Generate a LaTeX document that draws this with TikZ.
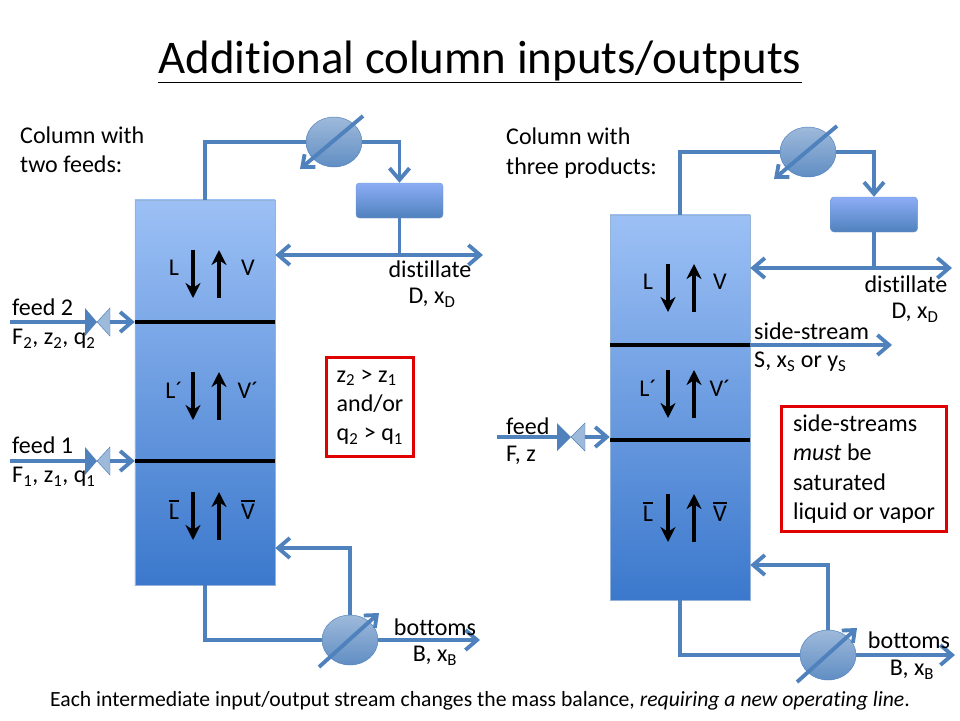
\documentclass[tikz,border=0pt]{standalone}
\usepackage{fontspec}
\setmainfont{Carlito}[Ligatures=NoCommon]
\usetikzlibrary{shapes.geometric,arrows.meta}
\definecolor{pipeBlue}{HTML}{4F81BD}
\definecolor{colTop}{HTML}{9CC0F5}
\definecolor{colBot}{HTML}{3B78CC}
\definecolor{noteRed}{HTML}{E00000}
\newcommand{\ovl}[1]{\tikz[baseline=(t.base)]{\node[inner sep=0pt] (t) {#1}; \draw[line width=0.9pt] ([yshift=2.5pt]t.north west) -- ([yshift=2.5pt]t.north east);}}

\begin{document}
\begin{tikzpicture}[x=0.03cm, y=-0.03cm,
        font=\fontsize{20.5}{25}\selectfont,
        column/.style={rectangle, draw=pipeBlue!60, top color=colTop, bottom color=colBot,
        minimum width=4.2cm, minimum height=11.55cm, inner sep=0pt},
        exchanger/.style={ellipse, draw=pipeBlue, top color=pipeBlue!55!white, bottom color=pipeBlue!90!white,
        minimum width=1.68cm, minimum height=1.5cm, inner sep=0pt},
        drumNode/.style={rectangle, rounded corners=3pt, draw=pipeBlue!80, top color=colTop!90!blue,
        bottom color=pipeBlue, minimum width=2.61cm, minimum height=1.05cm, inner sep=0pt},
        pipe/.style={draw=pipeBlue, line width=3.3pt},
        flow/.style={pipe, -{Straight Barb[length=3.5mm,width=6mm]}},
        twoway/.style={pipe, {Straight Barb[length=3.5mm,width=6mm]}-{Straight Barb[length=3.5mm,width=6mm]}},
        tray/.style={line width=3pt, black},
        vl/.style={line width=3pt, black, -{Stealth[length=4.5mm,width=4.5mm]}},
        note/.style={rectangle, draw=noteRed, line width=2.6pt, align=left, inner sep=6pt},
        lbl/.style={inner sep=0pt, align=left},
    ]
    \useasboundingbox (0,0) rectangle (960,720);

    % title and caption
    \node (title) at (480,62) {\fontsize{40}{46}\selectfont\underline{Additional column inputs/outputs}};
    \node (caption) at (480,701) {\fontsize{18.5}{22}\selectfont Each intermediate input/output stream changes the mass balance, \textit{requiring a new operating line}.};

    % ---- left: two feeds ----
    \node[lbl, anchor=west] (headA) at (20,150) {Column with\\two feeds:};
    \node[column]    (colA)  at (205,392.5) {};
    \node[exchanger] (condA) at (334,142)   {};
    \node[drumNode]  (drumA) at (399.5,200.5) {};
    \node[exchanger] (rebA)  at (350,640)   {};
    \draw[tray] (colA.west |- 0,322) -- (colA.east |- 0,322);
    \draw[tray] (colA.west |- 0,461) -- (colA.east |- 0,461);

    \coordinate (distA)  at (483,255);
    \coordinate (botA)   at (480,640);
    \coordinate (retA)   at (350,548);
    \draw[pipe] (colA.north) |- (condA.west);
    \draw[flow] (condA.east) -| (drumA.north);
    \draw[pipe] (drumA.south) -- (drumA.south |- distA);
    \draw[twoway] (colA.east |- distA) -- (distA);
    \draw[pipe] (colA.south) |- (rebA.west);
    \draw[flow] (rebA.east) -- (botA);
    \draw[flow] (rebA.north) |- (colA.east |- retA);
    \draw[pipe, -{Straight Barb[length=3mm,width=5mm]}] (363,116) -- (300,169);
    \draw[pipe, -{Straight Barb[length=3mm,width=5mm]}] (319,667) -- (379,613);

    % feeds
    \foreach \y/\n in {322/2, 461/1} {
        \coordinate (feedIn\n) at (10,\y);
        \fill[pipeBlue] (85,\y-14) -- (97,\y) -- (85,\y+14) -- cycle;
        \fill[pipeBlue!55!white, draw=pipeBlue, thin] (110,\y-14) -- (97,\y) -- (110,\y+14) -- cycle;
        \draw[pipe] (feedIn\n) -- (85,\y);
        \draw[flow] (110,\y) -- (colA.west |- 0,\y);
    }
    \node[lbl, anchor=west] (feedTwo)  at (12,307) {feed 2};
    \node[lbl, anchor=west] (feedTwoS) at (12,339) {F\textsubscript{2}, z\textsubscript{2}, q\textsubscript{2}};
    \node[lbl, anchor=west] (feedOne)  at (12,445) {feed 1};
    \node[lbl, anchor=west] (feedOneS) at (12,477) {F\textsubscript{1}, z\textsubscript{1}, q\textsubscript{1}};

    % flows inside column A
    \foreach \y/\l/\v in {268/L/V, 390/L´/V´, 510/\ovl{L}/\ovl{V}} {
        \node (lA\y) at (174,\y) {\l};
        \node (vA\y) at (248,\y) {\v};
        \draw[vl] (193,\y-18) -- (193,\y+30);
        \draw[vl] (219,\y+30) -- (219,\y-18);
    }
    \node[lbl] (distLblA) at (430,269) {distillate};
    \node[lbl] (distSubA) at (432,298) {D, x\textsubscript{D}};
    \node[lbl] (botLblA)  at (435,627) {bottoms};
    \node[lbl] (botSubA)  at (435,656) {B, x\textsubscript{B}};
    \node[note, anchor=north west, minimum width=2.61cm, minimum height=2.97cm] (noteA) at (325,356)
        {z\textsubscript{2} > z\textsubscript{1}\\and/or\\q\textsubscript{2} > q\textsubscript{1}};

    % ---- right: three products ----
    \node[lbl, anchor=west] (headB) at (506,153) {Column with\\three products:};
    \node[column]    (colB)  at (680,407.5) {};
    \node[exchanger] (condB) at (808,152)   {};
    \node[drumNode]  (drumB) at (874,214.5) {};
    \node[exchanger] (rebB)  at (828,655)   {};
    \draw[tray] (colB.west |- 0,345) -- (colB.east |- 0,345);
    \draw[tray] (colB.west |- 0,440) -- (colB.east |- 0,440);

    \coordinate (distB) at (952,268);
    \coordinate (sideB) at (892,345);
    \coordinate (botB)  at (955,655);
    \coordinate (retB)  at (828,565);
    \draw[pipe] (colB.north) |- (condB.west);
    \draw[flow] (condB.east) -| (drumB.north);
    \draw[pipe] (drumB.south) -- (drumB.south |- distB);
    \draw[twoway] (colB.east |- distB) -- (distB);
    \draw[flow] (colB.east |- sideB) -- (sideB);
    \draw[pipe] (colB.south) |- (rebB.west);
    \draw[flow] (rebB.east) -- (botB);
    \draw[flow] (rebB.north) |- (colB.east |- retB);
    \draw[pipe, -{Straight Barb[length=3mm,width=5mm]}] (837,126) -- (774,179);
    \draw[pipe, -{Straight Barb[length=3mm,width=5mm]}] (797,682) -- (857,628);

    \coordinate (feedInB) at (497,437);
    \fill[pipeBlue] (557,423) -- (571,437) -- (557,451) -- cycle;
    \fill[pipeBlue!55!white, draw=pipeBlue, thin] (585,423) -- (571,437) -- (585,451) -- cycle;
    \draw[pipe] (feedInB) -- (557,437);
    \draw[flow] (585,437) -- (colB.west |- 0,437);
    \node[lbl, anchor=west] (feedB)  at (506,426) {feed};
    \node[lbl, anchor=west] (feedBS) at (506,455) {F, z};

    \foreach \y/\l/\v in {282/L/V, 388/L´/V´, 512/\ovl{L}/\ovl{V}} {
        \node (lB\y) at (648,\y) {\l};
        \node (vB\y) at (720,\y) {\v};
        \draw[vl] (668,\y-18) -- (668,\y+30);
        \draw[vl] (694,\y+30) -- (694,\y-18);
    }
    \node[lbl] (distLblB) at (906,284) {distillate};
    \node[lbl] (distSubB) at (915,313) {D, x\textsubscript{D}};
    \node[lbl, anchor=west] (sideLbl) at (754,331) {side-stream};
    \node[lbl, anchor=west] (sideSub) at (754,362) {S, x\textsubscript{S} or y\textsubscript{S}};
    \node[lbl] (botLblB)  at (909,640) {bottoms};
    \node[lbl] (botSubB)  at (912,670) {B, x\textsubscript{B}};
    \node[note, anchor=north west, minimum width=4.95cm, minimum height=3.75cm] (noteB) at (780,405)
        {side-streams\\\textit{must} be\\saturated\\liquid or vapor};
\end{tikzpicture}
\end{document}
